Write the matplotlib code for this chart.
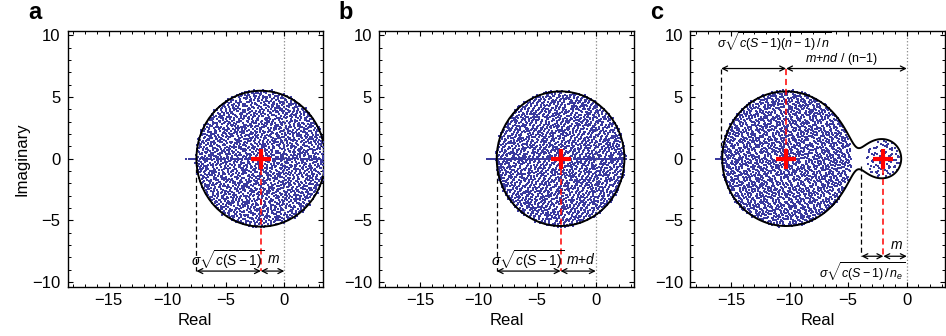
import numpy as np
import matplotlib
matplotlib.use("Agg")
import matplotlib.pyplot as plt
from matplotlib.patches import Circle
from matplotlib.ticker import MultipleLocator

plt.rcParams.update({
    "font.family": ["Liberation Sans", "DejaVu Sans"],
    "mathtext.fontset": "custom",
    "mathtext.rm": "Liberation Sans",
    "mathtext.it": "Liberation Sans:italic",
    "mathtext.bf": "Liberation Sans:bold",
    "font.size": 12,
    "axes.linewidth": 1.0,
})

# ── Spectrum parameters ─────────────────────────────────────────────────────
panel_labels   = ["a", "b", "c"]
bulk_centres   = [-2.0, -3.0, -10.3]     # red crosses, bulk of spectrum
bulk_radii     = [5.5, 5.45, 5.45]
bulk_counts    = [2400, 2600, 2900]
axis_spans     = [(-8.4, 3.3), (-9.3, 2.8), (-16.3, -15.4)]   # real eigenvalues
axis_counts    = [70, 150, 8]
outlier_centre = -2.0                    # panel c, second cluster
outlier_radius = 1.5
outlier_count  = 90
neck_blend     = 0.88                    # smooth union between the two disks

# arrows: (x_from, x_to, y) and text: (x, y, string, ha, va, size)
arrows = [
    [(-7.5, -2.0, -9.1), (-2.0, 0.0, -9.1)],
    [(-8.45, -3.0, -9.1), (-3.0, 0.0, -9.1)],
    [(-15.84, -10.3, 7.3), (-10.3, 0.0, 7.3),
     (-3.87, -2.0, -7.9), (-2.0, 0.0, -7.9)],
]
texts = [
    [(-4.8, -8.15, r"$\sigma\sqrt{c(S-1)}$", "center", "center", 10),
     (-0.9, -8.15, r"$m$", "center", "center", 10)],
    [(-5.8, -8.15, r"$\sigma\sqrt{c(S-1)}$", "center", "center", 10),
     (-1.3, -8.15, r"$m$+$d$", "center", "center", 10)],
    [(-16.2, 8.55, r"$\sigma\sqrt{c(S-1)(n-1)\,/\,n}$", "left", "bottom", 9),
     (-5.6, 7.4, r"$m$+$nd$ / (n$-$1)", "center", "bottom", 9),
     (-0.85, -6.95, r"$m$", "center", "center", 10),
     (-3.8, -9.15, r"$\sigma\sqrt{c(S-1)\,/\,n_e}$", "center", "center", 9)],
]
# dashed guides: (x, y_top, y_bottom, colour)
guides = [
    [(-7.5, -0.2, -9.1, "black"), (-2.0, 0.0, -9.1, "red")],
    [(-8.45, -0.3, -9.1, "black"), (-3.0, 0.0, -9.1, "red")],
    [(-15.84, 7.3, 0.0, "black"), (-10.3, 7.3, 0.0, "red"),
     (-3.87, -0.6, -7.9, "black"), (-2.0, 0.0, -7.9, "red")],
]

DOT = "#3a3a9e"


def halton(n, base, skip=17):
    out = np.empty(n)
    for k in range(n):
        i, f, r = k + skip, 1.0, 0.0
        while i > 0:
            f /= base
            r += f * (i % base)
            i //= base
        out[k] = r
    return out


def disk_points(cx, R, n, bases, skip):
    # low-discrepancy points in the bounding square, kept inside the disk
    m = int(n / 0.785) + 1
    u = (2 * halton(m, bases[0], skip) - 1) * R * 1.03
    v = (2 * halton(m, bases[1], skip) - 1) * R * 1.03
    keep = np.hypot(u, v) <= R * 1.02
    return cx + u[keep], v[keep]


def union_field(x, y):
    d1 = np.hypot(x - bulk_centres[2], y) - bulk_radii[2]
    d2 = np.hypot(x - outlier_centre, y) - outlier_radius
    k = neck_blend
    return -np.log(np.exp(-k * d1) + np.exp(-k * d2)) / k


def dots(ax, x, y):
    ax.scatter(x, y, s=4, marker="s", color=DOT, linewidths=0,
               antialiased=False, zorder=3)


fig = plt.figure(figsize=(9.46, 3.36), dpi=100)
lefts = [0.0714, 0.4006, 0.7294]
base_pairs = [(2, 3), (3, 5), (2, 5)]

for p in range(3):
    ax = fig.add_axes([lefts[p], 0.1473, 0.270, 0.759])
    ax.set_xlim(-18.5, 3.3)
    ax.set_ylim(-10.35, 10.3)

    ax.axvline(0, color="#888888", ls=":", lw=0.9, zorder=1)

    for gx, y0, y1, col in guides[p]:
        if col == "black":
            ax.plot([gx, gx], [y0, y1], color="black", ls=(0, (4, 2.5)), lw=0.9, zorder=2)

    xs, ys = disk_points(bulk_centres[p], bulk_radii[p], bulk_counts[p], base_pairs[p], 23 + 61 * p)
    dots(ax, xs, ys)

    a0, a1 = axis_spans[p]
    ax_x = a0 + (a1 - a0) * halton(axis_counts[p], 7, 5)
    dots(ax, ax_x, np.zeros_like(ax_x))

    if p < 2:
        ax.add_patch(Circle((bulk_centres[p], 0), bulk_radii[p], fill=False,
                            ec="black", lw=1.4, zorder=4))
    else:
        ox, oy = disk_points(outlier_centre, outlier_radius * 0.97, outlier_count, (2, 7), 40)
        dots(ax, ox, oy)
        gx = np.linspace(-17.5, 0.5, 700)
        gy = np.linspace(-6.5, 6.5, 500)
        GX, GY = np.meshgrid(gx, gy)
        ax.contour(GX, GY, union_field(GX, GY), levels=[0], colors="black",
                   linewidths=1.4, zorder=4)

    for gx, y0, y1, col in guides[p]:
        if col == "red":
            ax.plot([gx, gx], [y0, y1], color="red", ls=(0, (4, 2.5)), lw=1.1, zorder=5)

    centres = [bulk_centres[p]] + ([outlier_centre] if p == 2 else [])
    ax.plot(centres, [0] * len(centres), ls="none", marker="+", ms=14, mew=3,
            color="red", zorder=6)

    for x0, x1, y in arrows[p]:
        ax.annotate("", xy=(x1, y), xytext=(x0, y),
                    arrowprops=dict(arrowstyle="<->", color="black", lw=0.9,
                                    shrinkA=0, shrinkB=0, mutation_scale=9),
                    zorder=6)
    for tx, ty, s, ha, va, fs in texts[p]:
        ax.text(tx, ty, s, fontsize=fs, ha=ha, va=va, zorder=7)

    ax.xaxis.set_major_locator(MultipleLocator(5))
    ax.yaxis.set_major_locator(MultipleLocator(5))
    ax.xaxis.set_minor_locator(MultipleLocator(1))
    ax.yaxis.set_minor_locator(MultipleLocator(1))
    ax.tick_params(which="both", direction="in", top=True, right=True, labelsize=12)
    ax.tick_params(which="major", length=3.5, width=0.8, pad=5)
    ax.tick_params(which="minor", length=2, width=0.7)
    ax.set_xlabel("Real", fontsize=12, labelpad=3)
    if p == 0:
        ax.set_ylabel("Imaginary", fontsize=12, labelpad=2)

    fig.text(lefts[p] - 0.035, 0.962, panel_labels[p], fontsize=17,
             fontweight="bold", ha="center", va="center")

fig.savefig("out.png", dpi=100)
